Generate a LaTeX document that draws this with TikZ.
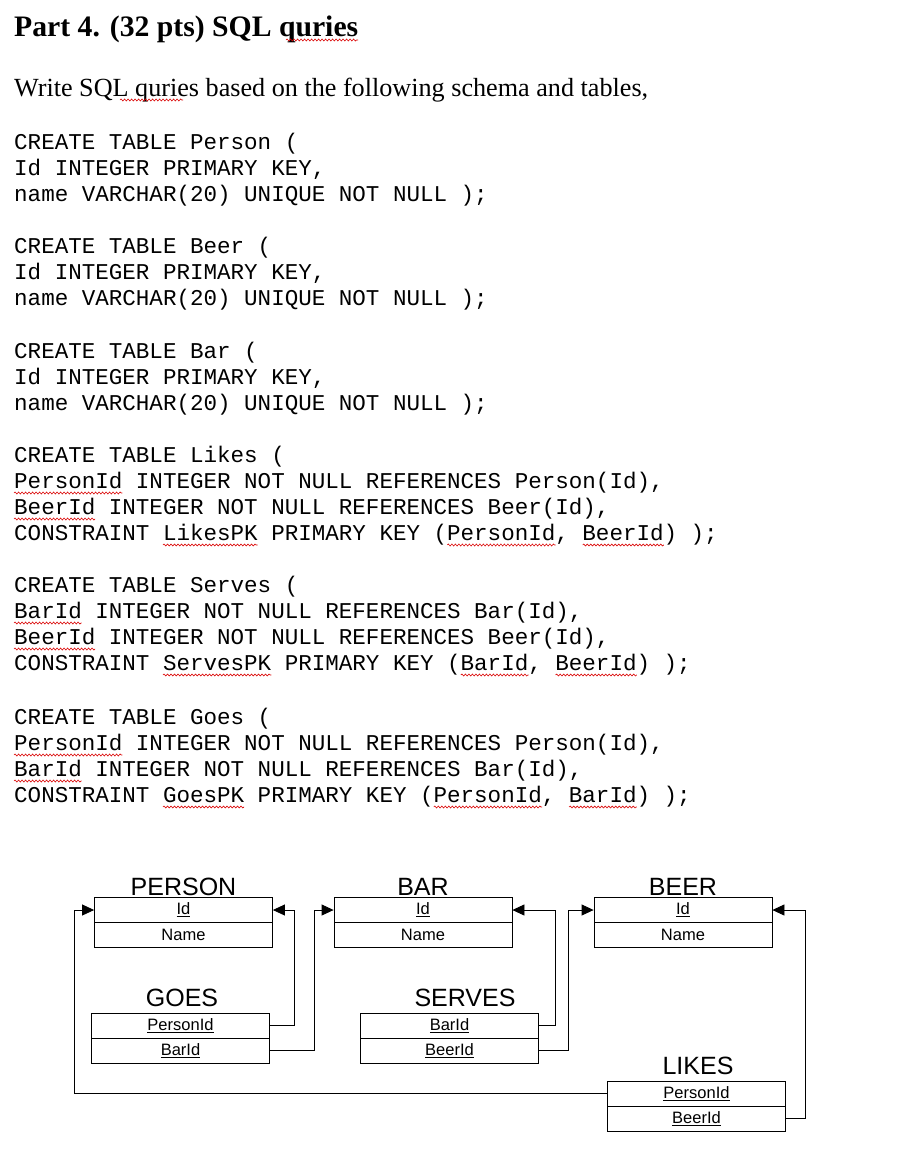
\documentclass[tikz,border=0pt]{standalone}
\usepackage{fontspec}
\usepackage{graphicx}
\setmainfont{Liberation Serif}
\setsansfont{Liberation Sans}
\setmonofont{Liberation Mono}
\usetikzlibrary{arrows.meta,decorations.pathmorphing}
\newcommand{\cw}{13.54}
\begin{document}
\begin{tikzpicture}[x=1pt,y=-1pt,
  mono/.style={anchor=base west,inner sep=0,font=\fontsize{22.55}{24}\ttfamily},
  row/.style={draw,line width=0.8pt,minimum width=178pt,minimum height=25pt,inner sep=0,font=\fontsize{16.5}{18}\sffamily},
  head/.style={inner sep=0,anchor=base,font=\fontsize{25}{28}\sffamily},
  fk/.style={line width=0.8pt,-{Triangle[length=12pt,width=11pt]}},
  wav/.style={red!85!black,line width=0.6pt,decorate,decoration={snake,amplitude=1pt,segment length=3.5pt}}]
\useasboundingbox (0,0) rectangle (916,1168);
\node[anchor=base west,inner sep=0] (title) at (14,36) {\resizebox{344pt}{!}{\bfseries Part 4. (32 pts) SQL quries}};
\node[anchor=base west,inner sep=0] (intro) at (14,96) {\resizebox{634pt}{!}{Write SQL quries based on the following schema and tables,}};
\draw[wav] (286,40) -- (358,40);
\draw[wav] (120,100) -- (183,100);
% code
\node[mono] (l1) at (14,149) {CREATE TABLE Person (};
\node[mono] (l2) at (14,175) {Id INTEGER PRIMARY KEY,};
\node[mono] (l3) at (14,201) {name VARCHAR(20) UNIQUE NOT NULL );};
\node[mono] (l4) at (14,253) {CREATE TABLE Beer (};
\node[mono] (l5) at (14,279) {Id INTEGER PRIMARY KEY,};
\node[mono] (l6) at (14,305) {name VARCHAR(20) UNIQUE NOT NULL );};
\node[mono] (l7) at (14,358) {CREATE TABLE Bar (};
\node[mono] (l8) at (14,384) {Id INTEGER PRIMARY KEY,};
\node[mono] (l9) at (14,410) {name VARCHAR(20) UNIQUE NOT NULL );};
\node[mono] (l10) at (14,462) {CREATE TABLE Likes (};
\node[mono] (l11) at (14,488) {PersonId INTEGER NOT NULL REFERENCES Person(Id),};
\node[mono] (l12) at (14,514) {BeerId INTEGER NOT NULL REFERENCES Beer(Id),};
\node[mono] (l13) at (14,540) {CONSTRAINT LikesPK PRIMARY KEY (PersonId, BeerId) );};
\node[mono] (l14) at (14,592) {CREATE TABLE Serves (};
\node[mono] (l15) at (14,618) {BarId INTEGER NOT NULL REFERENCES Bar(Id),};
\node[mono] (l16) at (14,644) {BeerId INTEGER NOT NULL REFERENCES Beer(Id),};
\node[mono] (l17) at (14,670) {CONSTRAINT ServesPK PRIMARY KEY (BarId, BeerId) );};
\node[mono] (l18) at (14,724) {CREATE TABLE Goes (};
\node[mono] (l19) at (14,750) {PersonId INTEGER NOT NULL REFERENCES Person(Id),};
\node[mono] (l20) at (14,776) {BarId INTEGER NOT NULL REFERENCES Bar(Id),};
\node[mono] (l21) at (14,802) {CONSTRAINT GoesPK PRIMARY KEY (PersonId, BarId) );};
% wavy underlines: (line baseline, start char, end char)
\foreach \y/\a/\b in {488/0/8, 514/0/6, 540/11/18, 540/32/40, 540/42/48,
                      618/0/5, 644/0/6, 670/11/19, 670/33/38, 670/40/46,
                      750/0/8, 776/0/5, 802/11/17, 802/31/39, 802/41/46}
  \draw[wav] ({14+\a*\cw},\y+5) -- ({14+\b*\cw},\y+5);
% diagram
\node[row] (pid) at (183.5,910) {\underline{Id}};
\node[row] (pname) at (183.5,935) {Name};
\node[head] (phead) at (183.5,895) {PERSON};
\node[row] (bid) at (423,910) {\underline{Id}};
\node[row] (bname) at (423,935) {Name};
\node[head] (bhead) at (423,895) {BAR};
\node[row] (eid) at (683,910) {\underline{Id}};
\node[row] (ename) at (683,935) {Name};
\node[head] (ehead) at (683,895) {BEER};
\node[row] (gp) at (180.5,1025.5) {\underline{PersonId}};
\node[row] (gb) at (180.5,1050.5) {\underline{BarId}};
\node[head] (ghead) at (182,1006) {GOES};
\node[row] (sb) at (449.5,1025.5) {\underline{BarId}};
\node[row] (se) at (449.5,1050.5) {\underline{BeerId}};
\node[head] (shead) at (465,1006) {SERVES};
\node[row] (lp) at (696.5,1093.5) {\underline{PersonId}};
\node[row] (le) at (696.5,1118.5) {\underline{BeerId}};
\node[head] (lhead) at (698,1074) {LIKES};
\draw[fk] (gp.east) -| (294,910) -- (pid.east);
\draw[fk] (gb.east) -| (314,910) -- (bid.west);
\draw[fk] (sb.east) -| (555,910) -- (bid.east);
\draw[fk] (se.east) -| (568,910) -- (eid.west);
\draw[fk] (lp.west) -| (74,910) -- (pid.west);
\draw[fk] (le.east) -| (805,910) -- (eid.east);
\end{tikzpicture}
\end{document}
